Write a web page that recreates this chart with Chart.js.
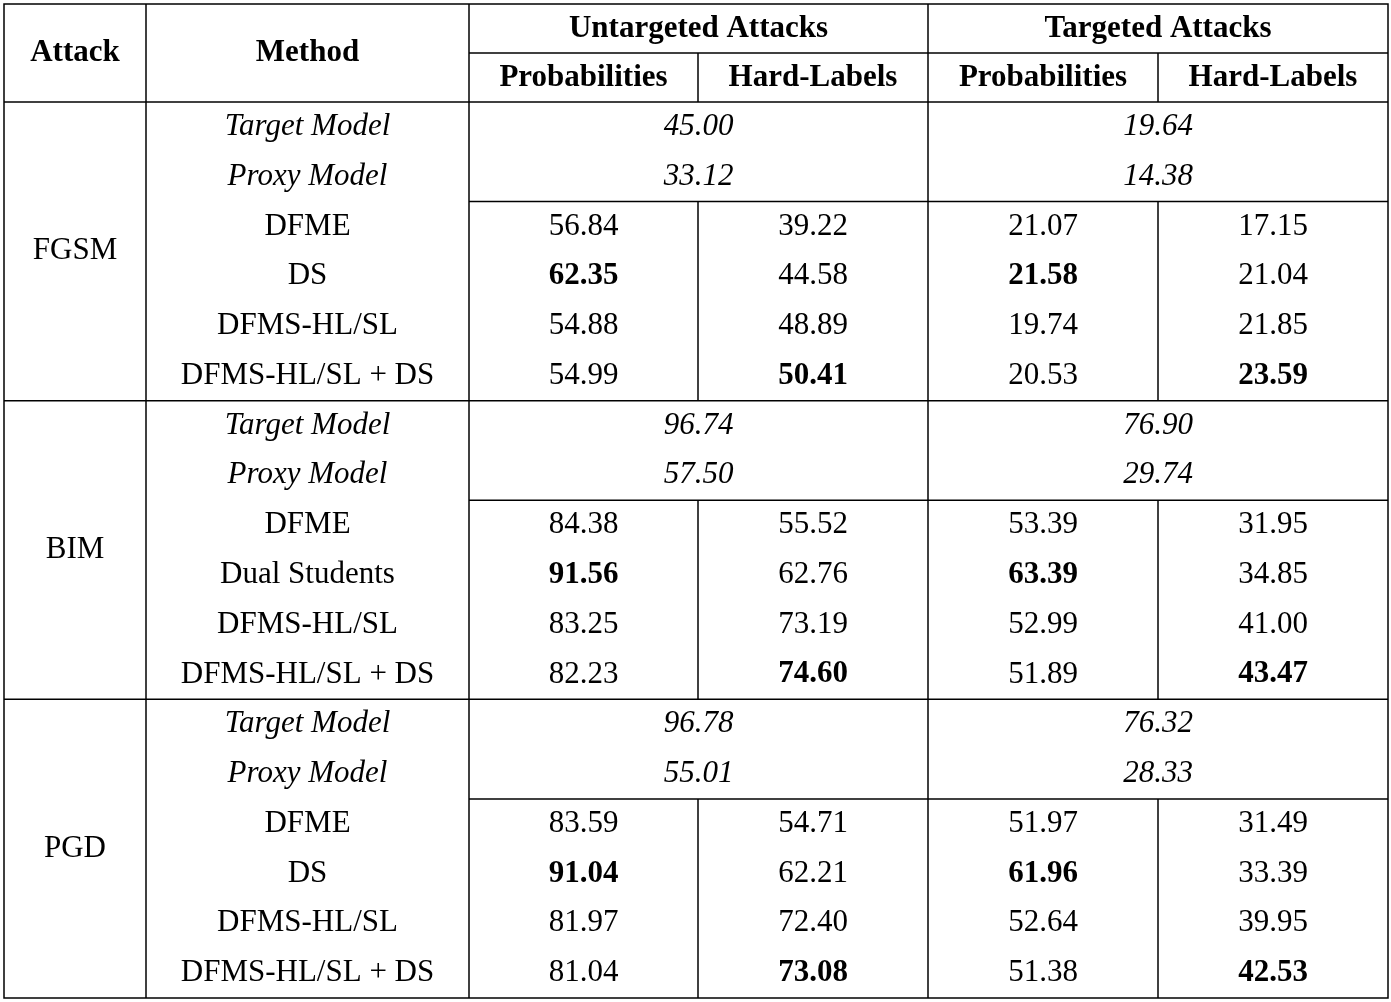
<!DOCTYPE html>
<html>
<head>
<meta charset="utf-8">
<script src="https://cdn.jsdelivr.net/npm/chart.js@4"></script>
<style>body{margin:0;background:#fff}</style>
</head>
<body>
<canvas id="c" width="1391" height="1002"></canvas>
<script>
const attacks = ['FGSM', 'BIM', 'PGD'];
const methods = [
  ['DFME', 'DS', 'DFMS-HL/SL', 'DFMS-HL/SL + DS'],
  ['DFME', 'Dual Students', 'DFMS-HL/SL', 'DFMS-HL/SL + DS'],
  ['DFME', 'DS', 'DFMS-HL/SL', 'DFMS-HL/SL + DS']
];
const targetModel = [['45.00', '19.64'], ['96.74', '76.90'], ['96.78', '76.32']];
const proxyModel = [['33.12', '14.38'], ['57.50', '29.74'], ['55.01', '28.33']];
// columns: untargeted prob, untargeted hard, targeted prob, targeted hard
const values = [
  [['56.84','39.22','21.07','17.15'], ['62.35','44.58','21.58','21.04'], ['54.88','48.89','19.74','21.85'], ['54.99','50.41','20.53','23.59']],
  [['84.38','55.52','53.39','31.95'], ['91.56','62.76','63.39','34.85'], ['83.25','73.19','52.99','41.00'], ['82.23','74.60','51.89','43.47']],
  [['83.59','54.71','51.97','31.49'], ['91.04','62.21','61.96','33.39'], ['81.97','72.40','52.64','39.95'], ['81.04','73.08','51.38','42.53']]
];
// bold: [row, col] per attack block
const bold = [
  [[1,0],[1,2],[3,1],[3,3]],
  [[1,0],[1,2],[3,1],[3,3]],
  [[1,0],[1,2],[3,1],[3,3]]
];

const colX = [4, 146, 469, 698, 928, 1158, 1388];
const yTop = 4, yHead1 = 53, yHead2 = 102, yBottom = 998;
const rowH = (yBottom - yHead2) / 18;

const tablePlugin = {
  id: 'table',
  afterDraw(chart) {
    const ctx = chart.ctx, xs = chart.scales.x, ys = chart.scales.y;
    const X = v => xs.getPixelForValue(v), Y = v => ys.getPixelForValue(v);
    const line = (x1, y1, x2, y2) => {
      ctx.beginPath(); ctx.moveTo(X(x1), Y(y1)); ctx.lineTo(X(x2), Y(y2)); ctx.stroke();
    };
    const text = (s, x, y, style) => {
      ctx.font = style + ' 31px "Liberation Serif", "Times New Roman", serif';
      ctx.fillText(s, X(x), Y(y));
    };
    const mid = i => (colX[i] + colX[i + 1]) / 2;
    ctx.save();
    ctx.fillStyle = '#000'; ctx.strokeStyle = '#000'; ctx.lineWidth = 1.5;
    ctx.textAlign = 'center'; ctx.textBaseline = 'middle';

    // header
    text('Attack', mid(0), (yTop + yHead2) / 2, 'bold');
    text('Method', mid(1), (yTop + yHead2) / 2, 'bold');
    text('Untargeted Attacks', (colX[2] + colX[4]) / 2, (yTop + yHead1) / 2, 'bold');
    text('Targeted Attacks', (colX[4] + colX[6]) / 2, (yTop + yHead1) / 2, 'bold');
    ['Probabilities', 'Hard-Labels', 'Probabilities', 'Hard-Labels'].forEach((s, i) =>
      text(s, mid(i + 2), (yHead1 + yHead2) / 2, 'bold'));

    // outer and main lines
    ctx.strokeRect(X(colX[0]), Y(yTop), X(colX[6]) - X(colX[0]), Y(yBottom) - Y(yTop));
    line(colX[1], yTop, colX[1], yBottom);
    line(colX[2], yTop, colX[2], yBottom);
    line(colX[4], yTop, colX[4], yBottom);
    line(colX[2], yHead1, colX[6], yHead1);
    line(colX[3], yHead1, colX[3], yHead2);
    line(colX[5], yHead1, colX[5], yHead2);

    attacks.forEach((a, b) => {
      const y0 = yHead2 + b * 6 * rowH;
      line(colX[0], y0, colX[6], y0);
      line(colX[2], y0 + 2 * rowH, colX[6], y0 + 2 * rowH);
      line(colX[3], y0 + 2 * rowH, colX[3], y0 + 6 * rowH);
      line(colX[5], y0 + 2 * rowH, colX[5], y0 + 6 * rowH);
      text(a, mid(0), y0 + 3 * rowH, '');
      const cy = r => y0 + (r + 0.5) * rowH;
      text('Target Model', mid(1), cy(0), 'italic');
      text('Proxy Model', mid(1), cy(1), 'italic');
      text(targetModel[b][0], (colX[2] + colX[4]) / 2, cy(0), 'italic');
      text(targetModel[b][1], (colX[4] + colX[6]) / 2, cy(0), 'italic');
      text(proxyModel[b][0], (colX[2] + colX[4]) / 2, cy(1), 'italic');
      text(proxyModel[b][1], (colX[4] + colX[6]) / 2, cy(1), 'italic');
      methods[b].forEach((m, r) => {
        text(m, mid(1), cy(r + 2), '');
        values[b][r].forEach((v, c) => {
          const isBold = bold[b].some(p => p[0] === r && p[1] === c);
          text(v, mid(c + 2), cy(r + 2), isBold ? 'bold' : '');
        });
      });
    });
    ctx.restore();
  }
};

new Chart(document.getElementById('c'), {
  type: 'scatter',
  data: { datasets: [{ data: [] }] },
  options: {
    responsive: false,
    animation: false,
    layout: { padding: 0 },
    plugins: { legend: { display: false }, tooltip: { enabled: false } },
    scales: {
      x: { type: 'linear', min: 0, max: 1391, display: false },
      y: { type: 'linear', min: 0, max: 1002, reverse: true, display: false }
    }
  },
  plugins: [tablePlugin]
});
</script>
</body>
</html>
